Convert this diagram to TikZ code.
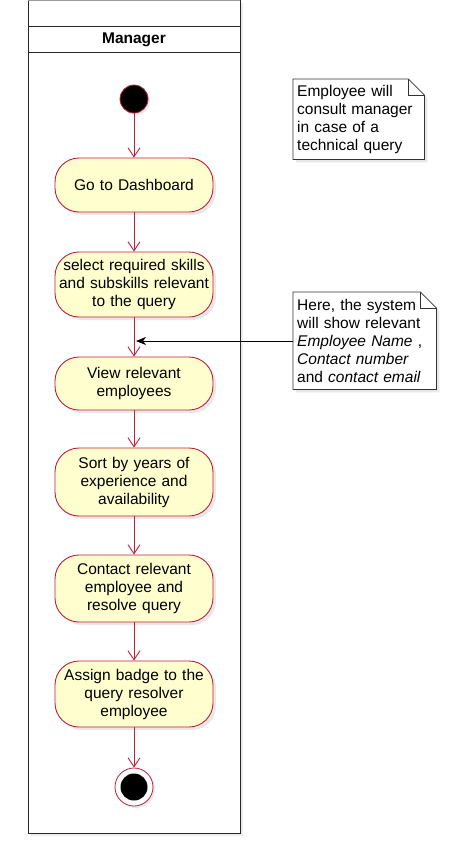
\documentclass[tikz,border=0pt]{standalone}
\usepackage{fontspec}
\setmainfont{Liberation Sans}
\usetikzlibrary{arrows.meta,shadows,calc}
\definecolor{umlred}{HTML}{C02040}
\definecolor{umlfill}{HTML}{FEFECE}
\pgfdeclarelayer{bg}
\pgfsetlayers{bg,main}
\begin{document}
\begin{tikzpicture}[x=1pt,y=-1pt,
  txt/.style={font=\fontsize{15.5}{18}\selectfont},
  act/.style={txt, draw=umlred, fill=umlfill, line width=0.9pt, rounded corners=24pt,
    minimum width=158pt, text width=150pt, align=center, inner sep=0pt,
    drop shadow={opacity=0.18, shadow xshift=3pt, shadow yshift=-3pt}},
  flow/.style={draw=umlred, line width=0.9pt, -{Straight Barb[length=9pt,width=12pt]}},
  notebox/.style={txt, align=left, inner sep=4pt, anchor=north west},
  noteline/.style={draw=black!80, line width=0.8pt, fill=white,
    drop shadow={opacity=0.18, shadow xshift=3pt, shadow yshift=-3pt}},
  lane/.style={draw=black!85, line width=0.9pt}
]
\useasboundingbox (0,0) rectangle (474,852);
% swimlane
\path[lane, fill=white, drop shadow={opacity=0.15, shadow xshift=3pt, shadow yshift=-3pt}] (28,0) rectangle (240,833);
\draw[lane] (28,26) -- (240,26);
\draw[lane] (28,52) -- (240,52);
\draw[draw=black!40, line width=1.2pt] (28,0.6) -- (240,0.6);
\node[txt, font=\fontsize{15.5}{18}\selectfont\bfseries] (lanetitle) at (134,40) {Manager};

% start
\node[circle, fill=black, draw=umlred, line width=0.8pt, minimum size=28pt, inner sep=0pt,
  drop shadow={opacity=0.18, shadow xshift=2pt, shadow yshift=-2pt}] (start) at (134,99) {};

% activities
\node[act, minimum height=54pt] (go) at (134,185) {Go to Dashboard};
\node[act, minimum height=65pt] (sel) at (134,284.5) {select required skills\\and subskills relevant\\to the query};
\node[act, minimum height=53pt] (view) at (134,383.5) {View relevant\\employees};
\node[act, minimum height=68pt] (sort) at (134,482) {Sort by years of\\experience and\\availability};
\node[act, minimum height=67pt] (contact) at (134,588.5) {Contact relevant\\employee and\\resolve query};
\node[act, minimum height=66pt] (assign) at (134,694) {Assign badge to the\\query resolver\\employee};

% end
\node[circle, fill=white, draw=umlred, line width=0.8pt, minimum size=38pt, inner sep=0pt,
  drop shadow={opacity=0.18, shadow xshift=2pt, shadow yshift=-2pt}] (end) at (134,787) {};
\node[circle, fill=black, minimum size=27pt, inner sep=0pt] (endin) at (134,787) {};

% flows
\draw[flow] (start) -- (go);
\draw[flow] (go) -- (sel);
\draw[flow] (sel) -- (view);
\draw[flow] (view) -- (sort);
\draw[flow] (sort) -- (contact);
\draw[flow] (contact) -- (assign);
\draw[flow] (assign) -- (end);

% note 1
\node[notebox, text width=123pt, minimum height=80pt] (n1) at (293,79) {Employee will\\consult manager\\in case of a\\technical query};
\begin{pgfonlayer}{bg}
\path[noteline] (n1.north west) -- ($(n1.north east)+(-16,0)$) -- ($(n1.north east)+(0,16)$) -- (n1.south east) -- (n1.south west) -- cycle;
\draw[draw=black!80, line width=0.8pt] ($(n1.north east)+(-16,0)$) |- ($(n1.north east)+(0,16)$);
\end{pgfonlayer}

% note 2
\node[notebox, text width=135pt, minimum height=97pt] (n2) at (293,292) {Here, the system\\will show relevant\\\textit{Employee Name} ,\\\textit{Contact number}\\and \textit{contact email}};
\begin{pgfonlayer}{bg}
\path[noteline] (n2.north west) -- ($(n2.north east)+(-16,0)$) -- ($(n2.north east)+(0,16)$) -- (n2.south east) -- (n2.south west) -- cycle;
\draw[draw=black!80, line width=0.8pt] ($(n2.north east)+(-16,0)$) |- ($(n2.north east)+(0,16)$);
\end{pgfonlayer}

\coordinate (hit) at (136,341);
\draw[line width=0.9pt, -{Stealth[length=10pt,width=8pt,inset=3pt]}] (n2.west |- hit) -- (hit);
\end{tikzpicture}
\end{document}
